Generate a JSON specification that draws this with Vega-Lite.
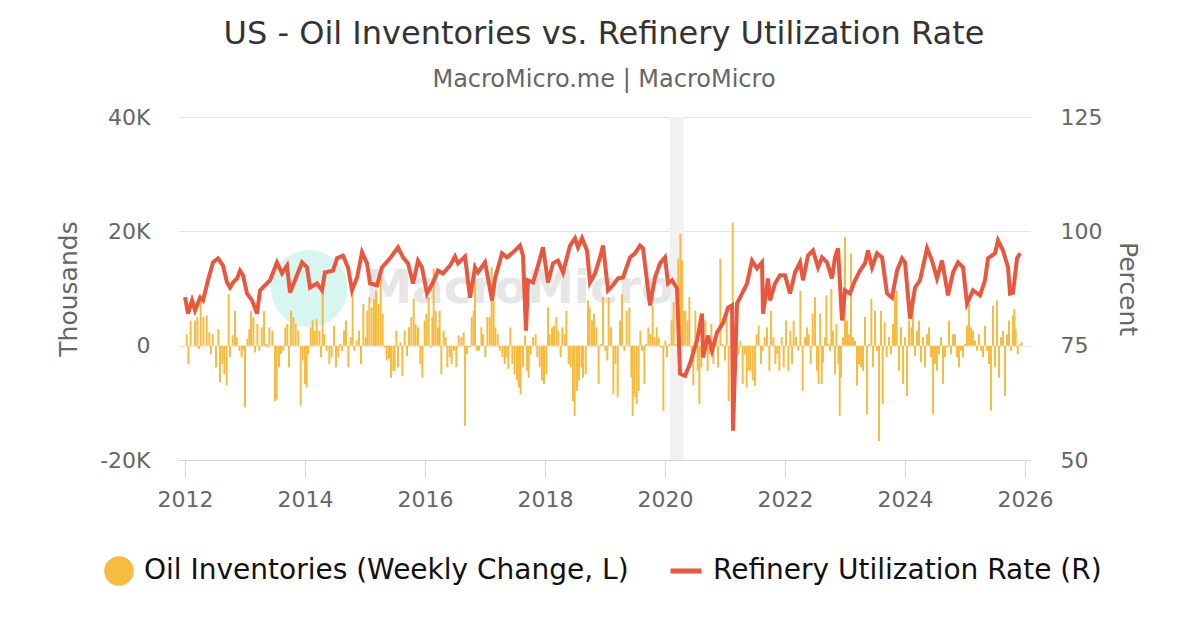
{
"$schema": "https://vega.github.io/schema/vega-lite/v6.json",
"width": 852,
"height": 343,
"autosize": "none",
"padding": {"left": 178, "top": 117, "right": 170, "bottom": 170},
"background": "#ffffff",
"title": {"text": "US - Oil Inventories vs. Refinery Utilization Rate", "subtitle": "MacroMicro.me | MacroMicro", "anchor": "middle", "font": "DejaVu Sans", "fontSize": 32, "fontWeight": "normal", "color": "#333333", "subtitleFont": "DejaVu Sans", "subtitleFontSize": 24, "subtitleColor": "#666666", "offset": 13, "subtitlePadding": 17},
"config": {"view": {"stroke": null}, "axis": {"labelFont": "DejaVu Sans", "labelFontSize": 22, "labelColor": "#666666", "titleFont": "DejaVu Sans", "titleFontSize": 25, "titleFontWeight": "normal", "titleColor": "#666666"}},
"datasets": {
"rec": [{"s": 2020.08, "e": 2020.31}],
"mark": [{"name": "MacroMicro"}],
"bars": [
{"t":2012.028,"c":2000},{"t":2012.056,"c":-3200},{"t":2012.094,"c":4400},{"t":2012.167,"c":4400},{"t":2012.206,"c":5000},{"t":2012.233,"c":-600},{"t":2012.261,"c":9000},{"t":2012.306,"c":5000},{"t":2012.361,"c":5300},{"t":2012.406,"c":2300},{"t":2012.433,"c":-1500},{"t":2012.461,"c":2000},{"t":2012.517,"c":-3800},{"t":2012.556,"c":2900},{"t":2012.583,"c":-6400},{"t":2012.622,"c":-3200},{"t":2012.656,"c":-5000},{"t":2012.694,"c":-7000},{"t":2012.728,"c":9000},{"t":2012.75,"c":-2000},{"t":2012.794,"c":1800},{"t":2012.833,"c":6100},{"t":2012.861,"c":1500},{"t":2012.906,"c":-900},{"t":2012.944,"c":-2000},{"t":2012.972,"c":-900},
{"t":2013.0,"c":-10800},{"t":2013.039,"c":1200},{"t":2013.072,"c":2900},{"t":2013.1,"c":6100},{"t":2013.139,"c":5000},{"t":2013.167,"c":-1200},{"t":2013.206,"c":3800},{"t":2013.239,"c":-900},{"t":2013.278,"c":3200},{"t":2013.317,"c":6100},{"t":2013.35,"c":300},{"t":2013.378,"c":-300},{"t":2013.406,"c":3200},{"t":2013.456,"c":2600},{"t":2013.5,"c":-9700},{"t":2013.528,"c":-9400},{"t":2013.567,"c":-3800},{"t":2013.6,"c":-1500},{"t":2013.639,"c":-900},{"t":2013.672,"c":3200},{"t":2013.706,"c":3800},{"t":2013.733,"c":-3800},{"t":2013.767,"c":6100},{"t":2013.806,"c":5000},{"t":2013.844,"c":3800},{"t":2013.889,"c":2600},{"t":2013.928,"c":-10500},{"t":2013.961,"c":-2600},
{"t":2014.0,"c":-6700},{"t":2014.028,"c":-7300},{"t":2014.056,"c":-1500},{"t":2014.094,"c":3200},{"t":2014.128,"c":4400},{"t":2014.161,"c":2600},{"t":2014.194,"c":4700},{"t":2014.239,"c":2600},{"t":2014.267,"c":-2000},{"t":2014.294,"c":10200},{"t":2014.322,"c":2000},{"t":2014.361,"c":-900},{"t":2014.406,"c":-3200},{"t":2014.444,"c":-2000},{"t":2014.483,"c":3500},{"t":2014.517,"c":-3800},{"t":2014.556,"c":-2000},{"t":2014.583,"c":300},{"t":2014.617,"c":-900},{"t":2014.65,"c":2600},{"t":2014.683,"c":4400},{"t":2014.722,"c":-3800},{"t":2014.761,"c":1500},{"t":2014.794,"c":9000},{"t":2014.822,"c":-900},{"t":2014.861,"c":900},{"t":2014.9,"c":2600},{"t":2014.933,"c":-3200},{"t":2014.972,"c":7300},
{"t":2015.011,"c":1500},{"t":2015.039,"c":6100},{"t":2015.072,"c":8500},{"t":2015.111,"c":6700},{"t":2015.15,"c":8200},{"t":2015.183,"c":9600},{"t":2015.222,"c":7300},{"t":2015.261,"c":12000},{"t":2015.294,"c":5600},{"t":2015.322,"c":-300},{"t":2015.361,"c":-2600},{"t":2015.4,"c":-2300},{"t":2015.433,"c":-5600},{"t":2015.472,"c":-4400},{"t":2015.494,"c":-4400},{"t":2015.522,"c":2600},{"t":2015.55,"c":-3800},{"t":2015.589,"c":600},{"t":2015.622,"c":-5300},{"t":2015.661,"c":2600},{"t":2015.7,"c":-1800},{"t":2015.733,"c":3200},{"t":2015.772,"c":5000},{"t":2015.811,"c":8200},{"t":2015.844,"c":3800},{"t":2015.883,"c":3200},{"t":2015.922,"c":-3200},{"t":2015.956,"c":-5600},{"t":2015.994,"c":4400},
{"t":2016.022,"c":5600},{"t":2016.061,"c":8500},{"t":2016.094,"c":-300},{"t":2016.122,"c":5000},{"t":2016.144,"c":13500},{"t":2016.178,"c":6100},{"t":2016.217,"c":3200},{"t":2016.244,"c":6100},{"t":2016.272,"c":-5000},{"t":2016.311,"c":2600},{"t":2016.344,"c":1500},{"t":2016.372,"c":-3800},{"t":2016.411,"c":-2000},{"t":2016.444,"c":-3200},{"t":2016.483,"c":-900},{"t":2016.522,"c":-3800},{"t":2016.561,"c":1800},{"t":2016.606,"c":1500},{"t":2016.644,"c":2300},{"t":2016.667,"c":-14000},{"t":2016.7,"c":-1500},{"t":2016.744,"c":-300},{"t":2016.778,"c":5000},{"t":2016.811,"c":6100},{"t":2016.833,"c":14600},{"t":2016.867,"c":-900},{"t":2016.9,"c":-900},{"t":2016.939,"c":3200},{"t":2016.967,"c":2000},
{"t":2017.006,"c":-2000},{"t":2017.039,"c":5000},{"t":2017.078,"c":5000},{"t":2017.111,"c":13700},{"t":2017.144,"c":7900},{"t":2017.172,"c":3200},{"t":2017.211,"c":2000},{"t":2017.244,"c":-900},{"t":2017.289,"c":-2000},{"t":2017.328,"c":-3200},{"t":2017.356,"c":-2000},{"t":2017.389,"c":-4100},{"t":2017.422,"c":3200},{"t":2017.456,"c":-3200},{"t":2017.494,"c":-5000},{"t":2017.533,"c":-6100},{"t":2017.567,"c":-7300},{"t":2017.594,"c":-8500},{"t":2017.633,"c":-3800},{"t":2017.667,"c":1800},{"t":2017.7,"c":-4400},{"t":2017.728,"c":-5600},{"t":2017.761,"c":-1500},{"t":2017.8,"c":1500},{"t":2017.844,"c":2000},{"t":2017.872,"c":-2000},{"t":2017.911,"c":-3800},{"t":2017.95,"c":-6100},{"t":2017.983,"c":-6700},
{"t":2018.022,"c":-5000},{"t":2018.05,"c":6700},{"t":2018.078,"c":2000},{"t":2018.117,"c":3200},{"t":2018.15,"c":3500},{"t":2018.189,"c":5000},{"t":2018.222,"c":2600},{"t":2018.261,"c":-2000},{"t":2018.289,"c":3200},{"t":2018.328,"c":2000},{"t":2018.356,"c":6100},{"t":2018.394,"c":-3200},{"t":2018.428,"c":-3800},{"t":2018.467,"c":-9700},{"t":2018.494,"c":-12300},{"t":2018.533,"c":-7900},{"t":2018.567,"c":-6100},{"t":2018.606,"c":-3800},{"t":2018.633,"c":-5600},{"t":2018.678,"c":-5000},{"t":2018.717,"c":7900},{"t":2018.744,"c":6700},{"t":2018.783,"c":4400},{"t":2018.817,"c":5600},{"t":2018.856,"c":3200},{"t":2018.894,"c":-6700},{"t":2018.928,"c":300},{"t":2018.967,"c":8500},
{"t":2019.006,"c":-900},{"t":2019.039,"c":-2600},{"t":2019.061,"c":8500},{"t":2019.1,"c":3200},{"t":2019.139,"c":-8500},{"t":2019.172,"c":-3200},{"t":2019.211,"c":-9000},{"t":2019.25,"c":4400},{"t":2019.283,"c":9000},{"t":2019.322,"c":-900},{"t":2019.361,"c":6100},{"t":2019.406,"c":6700},{"t":2019.439,"c":-5600},{"t":2019.461,"c":-12300},{"t":2019.489,"c":-9000},{"t":2019.528,"c":-10200},{"t":2019.561,"c":-7900},{"t":2019.589,"c":2600},{"t":2019.617,"c":-900},{"t":2019.656,"c":-6700},{"t":2019.683,"c":300},{"t":2019.722,"c":3200},{"t":2019.756,"c":2000},{"t":2019.794,"c":7000},{"t":2019.822,"c":1500},{"t":2019.861,"c":3200},{"t":2019.894,"c":1500},{"t":2019.933,"c":-300},{"t":2019.972,"c":-11400},
{"t":2020.006,"c":900},{"t":2020.033,"c":-2000},{"t":2020.072,"c":300},{"t":2020.111,"c":4400},{"t":2020.144,"c":7600},{"t":2020.183,"c":300},{"t":2020.222,"c":15200},{"t":2020.256,"c":19600},{"t":2020.283,"c":14900},{"t":2020.311,"c":6100},{"t":2020.339,"c":6100},{"t":2020.378,"c":4400},{"t":2020.406,"c":8500},{"t":2020.444,"c":-2600},{"t":2020.472,"c":-7000},{"t":2020.506,"c":6100},{"t":2020.544,"c":-4400},{"t":2020.572,"c":-10200},{"t":2020.606,"c":-3800},{"t":2020.639,"c":-900},{"t":2020.672,"c":4400},{"t":2020.711,"c":-4400},{"t":2020.739,"c":-1500},{"t":2020.772,"c":3800},{"t":2020.806,"c":-3200},{"t":2020.85,"c":1500},{"t":2020.883,"c":-3800},{"t":2020.922,"c":15200},{"t":2020.961,"c":300},
{"t":2021.0,"c":-2600},{"t":2021.028,"c":6100},{"t":2021.061,"c":-9700},{"t":2021.1,"c":-300},{"t":2021.128,"c":21500},{"t":2021.156,"c":-1500},{"t":2021.194,"c":1500},{"t":2021.222,"c":-1500},{"t":2021.256,"c":900},{"t":2021.294,"c":-6700},{"t":2021.328,"c":-1500},{"t":2021.361,"c":-7300},{"t":2021.394,"c":-4400},{"t":2021.422,"c":-4400},{"t":2021.461,"c":-6100},{"t":2021.5,"c":-7000},{"t":2021.528,"c":2000},{"t":2021.561,"c":3500},{"t":2021.6,"c":-3200},{"t":2021.628,"c":-900},{"t":2021.661,"c":1500},{"t":2021.7,"c":3200},{"t":2021.739,"c":-4400},{"t":2021.767,"c":6100},{"t":2021.806,"c":1500},{"t":2021.839,"c":-3200},{"t":2021.872,"c":-1500},{"t":2021.906,"c":-4400},{"t":2021.944,"c":1500},{"t":2021.978,"c":-3800},
{"t":2022.017,"c":4400},{"t":2022.056,"c":-4400},{"t":2022.089,"c":2600},{"t":2022.117,"c":-3200},{"t":2022.144,"c":4400},{"t":2022.183,"c":1500},{"t":2022.222,"c":-900},{"t":2022.256,"c":9600},{"t":2022.294,"c":-7900},{"t":2022.333,"c":1500},{"t":2022.367,"c":3200},{"t":2022.394,"c":2000},{"t":2022.428,"c":-3200},{"t":2022.461,"c":5600},{"t":2022.5,"c":8500},{"t":2022.533,"c":-4400},{"t":2022.56,"c":-6700},{"t":2022.585,"c":5600},{"t":2022.611,"c":-6700},{"t":2022.633,"c":-2900},{"t":2022.667,"c":1500},{"t":2022.689,"c":8800},{"t":2022.722,"c":300},{"t":2022.75,"c":-900},{"t":2022.772,"c":9900},{"t":2022.8,"c":2600},{"t":2022.833,"c":-5000},{"t":2022.856,"c":3800},{"t":2022.889,"c":-3200},{"t":2022.911,"c":-12300},{"t":2022.933,"c":-5600},{"t":2022.967,"c":1500},
{"t":2023.0,"c":19000},{"t":2023.033,"c":4400},{"t":2023.067,"c":2000},{"t":2023.1,"c":16100},{"t":2023.133,"c":1500},{"t":2023.167,"c":900},{"t":2023.2,"c":-7000},{"t":2023.233,"c":-3200},{"t":2023.267,"c":-3800},{"t":2023.3,"c":-4400},{"t":2023.333,"c":5000},{"t":2023.367,"c":-12000},{"t":2023.4,"c":300},{"t":2023.439,"c":8200},{"t":2023.467,"c":-3800},{"t":2023.5,"c":6100},{"t":2023.533,"c":-900},{"t":2023.567,"c":-16700},{"t":2023.6,"c":6100},{"t":2023.628,"c":-10200},{"t":2023.661,"c":4100},{"t":2023.694,"c":-2000},{"t":2023.733,"c":1500},{"t":2023.767,"c":-1500},{"t":2023.8,"c":3800},{"t":2023.833,"c":8800},{"t":2023.861,"c":9600},{"t":2023.9,"c":-4400},{"t":2023.933,"c":3200},{"t":2023.967,"c":-6700},
{"t":2024.0,"c":1500},{"t":2024.033,"c":-8800},{"t":2024.067,"c":4400},{"t":2024.106,"c":3200},{"t":2024.133,"c":7300},{"t":2024.167,"c":-1800},{"t":2024.2,"c":2600},{"t":2024.233,"c":4400},{"t":2024.267,"c":-2900},{"t":2024.3,"c":1500},{"t":2024.333,"c":-3800},{"t":2024.367,"c":2000},{"t":2024.4,"c":3200},{"t":2024.433,"c":-2000},{"t":2024.467,"c":-12000},{"t":2024.5,"c":-3200},{"t":2024.533,"c":-4400},{"t":2024.567,"c":-1500},{"t":2024.6,"c":1500},{"t":2024.633,"c":-6700},{"t":2024.667,"c":-2000},{"t":2024.7,"c":-300},{"t":2024.733,"c":4400},{"t":2024.767,"c":-1500},{"t":2024.8,"c":2000},{"t":2024.833,"c":2000},{"t":2024.867,"c":-2000},{"t":2024.9,"c":-3800},{"t":2024.933,"c":-900},{"t":2024.967,"c":-2000},
{"t":2025.0,"c":300},{"t":2025.033,"c":3500},{"t":2025.067,"c":7300},{"t":2025.1,"c":3200},{"t":2025.133,"c":2600},{"t":2025.167,"c":900},{"t":2025.2,"c":-900},{"t":2025.233,"c":2000},{"t":2025.267,"c":-900},{"t":2025.3,"c":-2000},{"t":2025.333,"c":3500},{"t":2025.367,"c":-900},{"t":2025.4,"c":-3200},{"t":2025.433,"c":-11400},{"t":2025.467,"c":7000},{"t":2025.5,"c":-3800},{"t":2025.533,"c":7900},{"t":2025.567,"c":-5600},{"t":2025.6,"c":1500},{"t":2025.633,"c":2600},{"t":2025.667,"c":-8800},{"t":2025.7,"c":2000},{"t":2025.733,"c":4400},{"t":2025.767,"c":-900},{"t":2025.8,"c":5300},{"t":2025.822,"c":6400},{"t":2025.844,"c":2900},{"t":2025.878,"c":-1500},{"t":2025.911,"c":300},{"t":2025.944,"c":600}
],
"line": [
{"t":2012.0,"r":85.6},{"t":2012.05,"r":82.0},{"t":2012.117,"r":84.9},{"t":2012.167,"r":82.7},{"t":2012.25,"r":85.5},{"t":2012.3,"r":84.9},{"t":2012.383,"r":89.3},{"t":2012.467,"r":93.2},{"t":2012.55,"r":94.1},{"t":2012.633,"r":92.5},{"t":2012.7,"r":88.8},{"t":2012.75,"r":87.7},{"t":2012.8,"r":88.8},{"t":2012.867,"r":89.7},{"t":2012.917,"r":91.4},{"t":2012.967,"r":90.4},
{"t":2013.033,"r":86.4},{"t":2013.117,"r":84.9},{"t":2013.2,"r":82.0},{"t":2013.25,"r":87.1},{"t":2013.333,"r":88.2},{"t":2013.417,"r":89.3},{"t":2013.533,"r":93.2},{"t":2013.617,"r":90.8},{"t":2013.7,"r":92.5},{"t":2013.75,"r":86.6},{"t":2013.833,"r":89.3},{"t":2013.95,"r":93.2},
{"t":2014.033,"r":92.1},{"t":2014.083,"r":87.7},{"t":2014.2,"r":88.6},{"t":2014.283,"r":87.1},{"t":2014.333,"r":91.0},{"t":2014.467,"r":91.4},{"t":2014.533,"r":94.1},{"t":2014.633,"r":94.7},{"t":2014.717,"r":92.1},{"t":2014.783,"r":87.1},{"t":2014.867,"r":89.9},{"t":2014.95,"r":95.4},
{"t":2015.033,"r":93.0},{"t":2015.083,"r":88.6},{"t":2015.2,"r":88.2},{"t":2015.283,"r":92.1},{"t":2015.417,"r":94.1},{"t":2015.55,"r":96.5},{"t":2015.633,"r":94.3},{"t":2015.717,"r":93.0},{"t":2015.8,"r":88.6},{"t":2015.883,"r":93.6},{"t":2015.95,"r":92.1},
{"t":2016.033,"r":86.4},{"t":2016.133,"r":88.8},{"t":2016.217,"r":91.4},{"t":2016.3,"r":90.8},{"t":2016.417,"r":92.5},{"t":2016.5,"r":94.5},{"t":2016.55,"r":93.0},{"t":2016.667,"r":94.5},{"t":2016.75,"r":85.5},{"t":2016.833,"r":92.1},{"t":2016.883,"r":91.0},
{"t":2017.0,"r":93.2},{"t":2017.117,"r":84.9},{"t":2017.167,"r":89.7},{"t":2017.283,"r":95.2},{"t":2017.367,"r":94.3},{"t":2017.467,"r":95.4},{"t":2017.583,"r":96.9},{"t":2017.633,"r":94.7},{"t":2017.683,"r":78.3},{"t":2017.717,"r":89.3},{"t":2017.8,"r":88.8},{"t":2017.883,"r":92.5},{"t":2017.967,"r":96.5},
{"t":2018.05,"r":88.8},{"t":2018.133,"r":93.0},{"t":2018.217,"r":93.6},{"t":2018.3,"r":91.0},{"t":2018.417,"r":96.9},{"t":2018.5,"r":98.5},{"t":2018.55,"r":96.5},{"t":2018.617,"r":98.5},{"t":2018.7,"r":95.8},{"t":2018.75,"r":88.8},{"t":2018.833,"r":90.8},{"t":2018.917,"r":94.3},{"t":2018.967,"r":96.9},
{"t":2019.05,"r":87.1},{"t":2019.133,"r":88.2},{"t":2019.217,"r":89.7},{"t":2019.3,"r":89.9},{"t":2019.417,"r":94.3},{"t":2019.5,"r":95.2},{"t":2019.583,"r":96.9},{"t":2019.633,"r":96.3},{"t":2019.75,"r":83.8},{"t":2019.833,"r":89.9},{"t":2019.917,"r":93.0},
{"t":2020.0,"r":94.3},{"t":2020.05,"r":88.6},{"t":2020.117,"r":89.3},{"t":2020.2,"r":87.5},{"t":2020.25,"r":68.9},{"t":2020.333,"r":68.4},{"t":2020.417,"r":71.1},{"t":2020.533,"r":76.1},{"t":2020.617,"r":82.0},{"t":2020.633,"r":72.4},{"t":2020.717,"r":77.2},{"t":2020.783,"r":73.9},{"t":2020.867,"r":77.9},{"t":2020.967,"r":80.0},
{"t":2021.05,"r":83.3},{"t":2021.117,"r":83.8},{"t":2021.133,"r":56.4},{"t":2021.2,"r":84.2},{"t":2021.283,"r":86.4},{"t":2021.367,"r":88.6},{"t":2021.45,"r":93.6},{"t":2021.533,"r":91.9},{"t":2021.617,"r":93.2},{"t":2021.633,"r":82.0},{"t":2021.717,"r":89.7},{"t":2021.75,"r":84.9},{"t":2021.833,"r":88.6},{"t":2021.917,"r":90.4},
{"t":2022.0,"r":90.4},{"t":2022.083,"r":86.4},{"t":2022.167,"r":91.0},{"t":2022.25,"r":93.2},{"t":2022.3,"r":89.3},{"t":2022.383,"r":94.7},{"t":2022.467,"r":95.8},{"t":2022.55,"r":92.1},{"t":2022.617,"r":94.3},{"t":2022.7,"r":93.2},{"t":2022.783,"r":89.7},{"t":2022.833,"r":94.3},{"t":2022.883,"r":96.3},{"t":2022.95,"r":80.5},
{"t":2023.0,"r":87.1},{"t":2023.083,"r":86.4},{"t":2023.167,"r":89.3},{"t":2023.25,"r":91.4},{"t":2023.333,"r":93.0},{"t":2023.383,"r":95.8},{"t":2023.45,"r":92.1},{"t":2023.533,"r":95.2},{"t":2023.617,"r":94.3},{"t":2023.7,"r":86.4},{"t":2023.783,"r":85.5},{"t":2023.867,"r":91.4},{"t":2023.95,"r":94.1},
{"t":2024.0,"r":93.2},{"t":2024.083,"r":80.9},{"t":2024.167,"r":87.7},{"t":2024.25,"r":89.3},{"t":2024.367,"r":96.3},{"t":2024.45,"r":93.6},{"t":2024.533,"r":89.7},{"t":2024.617,"r":93.6},{"t":2024.717,"r":86.0},{"t":2024.8,"r":91.0},{"t":2024.883,"r":93.2},{"t":2024.967,"r":92.1},
{"t":2025.033,"r":84.2},{"t":2025.133,"r":87.1},{"t":2025.25,"r":86.0},{"t":2025.333,"r":89.3},{"t":2025.383,"r":94.1},{"t":2025.5,"r":95.2},{"t":2025.55,"r":98.0},{"t":2025.633,"r":95.8},{"t":2025.717,"r":92.1},{"t":2025.75,"r":86.4},{"t":2025.8,"r":86.6},{"t":2025.867,"r":94.1},{"t":2025.917,"r":95.2}
]
},
"layer": [
{
"data": {"name": "rec"},
"mark": {"type": "rect", "color": "#f1f1f1"},
"encoding": {
"x": {"field": "s", "type": "quantitative", "title": null, "scale": {"domain": [2011.883, 2026.083], "nice": false, "zero": false}},
"x2": {"field": "e"}
}
},
{
"layer": [
{
"data": {"name": "mark"},
"mark": {"type": "point", "filled": true, "color": "#d6f6ef", "opacity": 1, "size": 5900},
"encoding": {
"x": {"datum": 2014.07, "type": "quantitative"},
"y": {"datum": 10000, "type": "quantitative"}
}
},
{
"data": {"name": "mark"},
"mark": {"type": "text", "font": "DejaVu Sans", "fontSize": 47, "fontWeight": "bold", "color": "#e6e6e6", "align": "center", "baseline": "middle"},
"encoding": {
"x": {"datum": 2017.57, "type": "quantitative"},
"y": {"datum": 10000, "type": "quantitative"},
"text": {"field": "name"}
}
},
{
"data": {"name": "bars"},
"mark": {"type": "rule", "strokeWidth": 2},
"encoding": {
"x": {"field": "t", "type": "quantitative", "title": null, "scale": {"domain": [2011.883, 2026.083], "nice": false, "zero": false},
"axis": {"values": [2012, 2014, 2016, 2018, 2020, 2022, 2024, 2026], "format": "d", "grid": false, "domainColor": "#d6d6d6", "tickColor": "#d6d6d6", "tickSize": 17, "labelPadding": 12}},
"y": {"field": "c", "type": "quantitative", "title": "Thousands", "scale": {"domain": [-20000, 40000], "nice": false},
"axis": {"orient": "left", "values": [-20000, 0, 20000, 40000], "labelExpr": "datum.value == 0 ? '0' : (datum.value / 1000) + 'K'", "domain": false, "ticks": false, "tickSize": 0, "labelPadding": 28, "grid": true, "gridColor": "#e4e4e4", "titlePadding": 18}},
"y2": {"datum": 0},
"color": {"datum": "Oil Inventories (Weekly Change, L)", "type": "nominal",
"scale": {"domain": ["Oil Inventories (Weekly Change, L)"], "range": ["#f6bc41"]},
"legend": {"title": null, "orient": "none", "legendX": -74, "legendY": 439, "direction": "horizontal", "labelFont": "DejaVu Sans", "labelFontSize": 28, "labelColor": "#111111", "symbolType": "circle", "symbolSize": 784, "labelOffset": 10, "labelLimit": 700,
"encode": {"symbols": {"update": {"fill": {"value": "#f6bc41"}, "stroke": {"value": "transparent"}, "opacity": {"value": 1}}}}}
}
}
}
]
},
{
"data": {"name": "line"},
"mark": {"type": "line", "strokeWidth": 4},
"encoding": {
"x": {"field": "t", "type": "quantitative", "title": null, "scale": {"domain": [2011.883, 2026.083], "nice": false, "zero": false}},
"y": {"field": "r", "type": "quantitative", "title": "Percent", "scale": {"domain": [50, 125], "nice": false, "zero": false},
"axis": {"orient": "right", "values": [50, 75, 100, 125], "domain": false, "ticks": false, "tickSize": 0, "labelPadding": 30, "grid": false, "titleAngle": 90, "titlePadding": 13}},
"color": {"datum": "Refinery Utilization Rate (R)", "type": "nominal",
"scale": {"domain": ["Refinery Utilization Rate (R)"], "range": ["#e9573f"]},
"legend": {"title": null, "orient": "none", "legendX": 490, "legendY": 436, "direction": "horizontal", "labelFont": "DejaVu Sans", "labelFontSize": 28, "labelColor": "#111111", "symbolType": "stroke", "symbolSize": 961, "symbolStrokeWidth": 5, "labelOffset": 9, "labelLimit": 700}}
}
}
],
"resolve": {"scale": {"y": "independent", "color": "independent"}}
}
